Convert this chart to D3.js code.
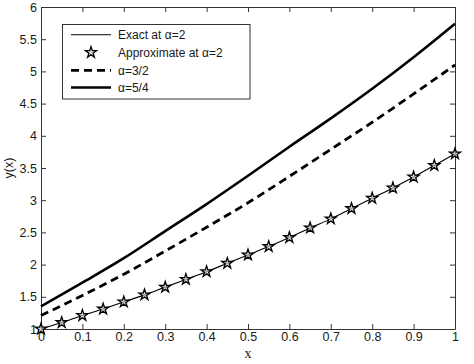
<!DOCTYPE html>
<html>
<head>
<meta charset="utf-8">
<script src="https://cdn.jsdelivr.net/npm/d3@7"></script>
<style>
  html, body { margin: 0; padding: 0; background: #fff; }
  svg { display: block; font-family: "Liberation Sans", Arial, sans-serif; }
</style>
</head>
<body>
<svg id="chart" width="474" height="364"></svg>
<script>
// ---- data ----
const xStars = [0, 0.05, 0.1, 0.15, 0.2, 0.25, 0.3, 0.35, 0.4, 0.45, 0.5, 0.55, 0.6, 0.65, 0.7, 0.75, 0.8, 0.85, 0.9, 0.95, 1];
const exactAlpha2 = [1.00, 1.10, 1.21, 1.31, 1.42, 1.53, 1.65, 1.77, 1.89, 2.02, 2.15, 2.28, 2.42, 2.57, 2.71, 2.87, 3.03, 3.19, 3.36, 3.54, 3.72];
const approxAlpha2 = [1.00, 1.10, 1.21, 1.31, 1.42, 1.53, 1.65, 1.77, 1.89, 2.02, 2.15, 2.28, 2.42, 2.57, 2.71, 2.87, 3.03, 3.19, 3.36, 3.54, 3.72];
const xCurve = [0, 0.1, 0.2, 0.3, 0.4, 0.5, 0.6, 0.7, 0.8, 0.9, 1];
const alpha32 = [1.21, 1.52, 1.85, 2.21, 2.58, 2.96, 3.37, 3.79, 4.21, 4.65, 5.10];
const alpha54 = [1.35, 1.72, 2.10, 2.52, 2.94, 3.38, 3.83, 4.27, 4.73, 5.22, 5.74];
const xTicks = [0, 0.1, 0.2, 0.3, 0.4, 0.5, 0.6, 0.7, 0.8, 0.9, 1];
const yTicks = [1, 1.5, 2, 2.5, 3, 3.5, 4, 4.5, 5, 5.5, 6];
const legendLabels = ["Exact at \u03B1=2", "Approximate at \u03B1=2", "\u03B1=3/2", "\u03B1=5/4"];

// ---- layout ----
const svg = d3.select("#chart");
const L = 41, R = 455, T = 7, B = 329;
const x = d3.scaleLinear().domain([0, 1]).range([L, R]);
const y = d3.scaleLinear().domain([1, 6]).range([B, T]);
const axisColor = "#333";
const textColor = "#1a1a1a";

// axes with inward ticks
const tk = 5;
const gB = svg.append("g").attr("transform", `translate(0,${B})`)
  .call(d3.axisBottom(x).tickValues(xTicks).tickSizeInner(-tk).tickSizeOuter(0).tickPadding(3)
    .tickFormat(d => d3.format("")(d)));
const gT = svg.append("g").attr("transform", `translate(0,${T})`)
  .call(d3.axisTop(x).tickValues(xTicks).tickSizeInner(-tk).tickSizeOuter(0).tickFormat(""));
const gL = svg.append("g").attr("transform", `translate(${L},0)`)
  .call(d3.axisLeft(y).tickValues(yTicks).tickSizeInner(-tk).tickSizeOuter(0).tickPadding(4)
    .tickFormat(d => d3.format("")(d)));
const gR = svg.append("g").attr("transform", `translate(${R},0)`)
  .call(d3.axisRight(y).tickValues(yTicks).tickSizeInner(-tk).tickSizeOuter(0).tickFormat(""));
[gB, gT, gL, gR].forEach(g => {
  g.select(".domain").attr("stroke", axisColor).attr("stroke-width", 1);
  g.selectAll(".tick line").attr("stroke", axisColor);
  g.selectAll("text").attr("fill", textColor).attr("font-size", 12.5)
    .attr("font-family", "Liberation Sans, Arial, sans-serif");
});
gB.selectAll("text").attr("dy", "0.71em");

// axis titles
svg.append("text").attr("x", (L + R) / 2).attr("y", 358).attr("text-anchor", "middle")
  .attr("font-family", "Liberation Serif, Times New Roman, serif").attr("font-size", 14).attr("fill", textColor).text("x");
svg.append("text").attr("transform", `translate(13,${(T + B) / 2}) rotate(-90)`).attr("text-anchor", "middle")
  .attr("font-size", 12.5).attr("fill", textColor).text("y(x)");

// curves
const line = d3.line().x(d => x(d[0])).y(d => y(d[1])).curve(d3.curveMonotoneX);
svg.append("path").datum(xCurve.map((v, i) => [v, alpha54[i]]))
  .attr("d", line).attr("fill", "none").attr("stroke", "#000").attr("stroke-width", 2.6);
svg.append("path").datum(xCurve.map((v, i) => [v, alpha32[i]]))
  .attr("d", line).attr("fill", "none").attr("stroke", "#000").attr("stroke-width", 2.8)
  .attr("stroke-dasharray", "8,5");
svg.append("path").datum(xStars.map((v, i) => [v, exactAlpha2[i]]))
  .attr("d", line).attr("fill", "none").attr("stroke", "#000").attr("stroke-width", 1.1);

const star = d3.symbol().type(d3.symbolStar).size(38);
svg.append("g").selectAll("path").data(xStars.map((v, i) => [v, approxAlpha2[i]])).join("path")
  .attr("d", star).attr("transform", d => `translate(${x(d[0])},${y(d[1])})`)
  .attr("fill", "#ccc").attr("fill-opacity", 0.7).attr("stroke", "#000").attr("stroke-width", 1.3);

// legend
const lg = svg.append("g");
lg.append("rect").attr("x", 62.5).attr("y", 24.5).attr("width", 187.5).attr("height", 74.5)
  .attr("fill", "#fff").attr("stroke", axisColor).attr("stroke-width", 1);
const rows = [34.7, 52.5, 70.3, 87.5];
lg.append("line").attr("x1", 71).attr("x2", 111).attr("y1", rows[0]).attr("y2", rows[0]).attr("stroke", "#000").attr("stroke-width", 1.1);
lg.append("path").attr("d", star).attr("transform", `translate(91,${rows[1]})`)
  .attr("fill", "#ccc").attr("fill-opacity", 0.7).attr("stroke", "#000").attr("stroke-width", 1.3);
lg.append("line").attr("x1", 71).attr("x2", 111).attr("y1", rows[2]).attr("y2", rows[2]).attr("stroke", "#000").attr("stroke-width", 2.8).attr("stroke-dasharray", "8,5");
lg.append("line").attr("x1", 71).attr("x2", 111).attr("y1", rows[3]).attr("y2", rows[3]).attr("stroke", "#000").attr("stroke-width", 2.6);
lg.selectAll("text.lab").data(legendLabels).join("text").attr("class", "lab")
  .attr("x", 118).attr("y", (d, i) => rows[i]).attr("dy", "0.35em")
  .attr("font-size", 12).attr("fill", textColor).text(d => d);
</script>
</body>
</html>
